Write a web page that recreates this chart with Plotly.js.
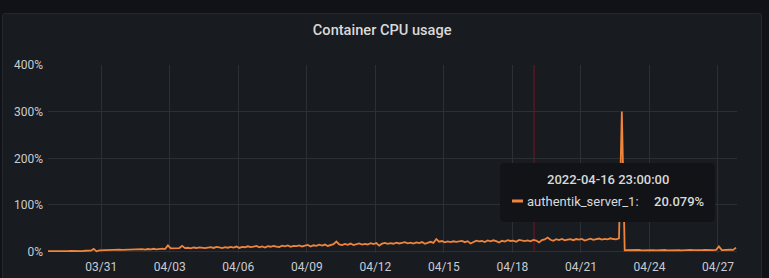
<!DOCTYPE html>
<html><head><meta charset="utf-8">
<script src="https://cdn.plot.ly/plotly-3.0.1.min.js"></script>
<style>
html,body{margin:0;padding:0;background:#111217;width:769px;height:278px;overflow:hidden;}
#panel{position:absolute;left:2px;top:13px;width:760px;height:290px;background:#181b1f;border:1px solid #24272c;border-radius:3px;box-sizing:border-box;}
#chart{position:absolute;left:0;top:0;width:769px;height:278px;}
</style></head><body>
<div id="panel"></div><div id="chart"></div>
<script>
const panelTitle = "Container CPU usage";
const seriesName = "authentik_server_1";
const startTime = Date.UTC(2022, 2, 28, 16, 0, 0); // 2022-03-28 16:00
const stepHours = 3;
// CPU usage in %, one value every 3 hours
const cpuValues = [
  1.2, 1.0, 1.5, 0.9, 1.3, 1.1, 1.6, 1.2,
  1.4, 1.0, 1.7, 1.3, 1.1, 1.8, 1.5, 1.9,
  5.8, 0.6, 2.8, 3.1, 2.6, 3.4, 3.0, 3.6,
  3.2, 4.1, 3.5, 3.9, 4.4, 3.7, 4.8, 4.0,
  4.6, 5.2, 4.3, 5.5, 4.9, 6.1, 5.0, 5.7,
  6.3, 5.4, 13.2, 6.8, 7.2, 6.5, 7.6, 12.4,
  7.4, 8.2, 6.9, 8.8, 7.7, 9.1, 8.0, 7.3,
  8.6, 9.4, 7.8, 10.2, 8.9, 7.5, 9.7, 8.3,
  9.9, 8.7, 10.8, 7.9, 10.1, 9.3, 11.4, 9.6,
  10.5, 12.3, 9.2, 11.1, 8.6, 11.8, 10.4, 12.0,
  10.9, 9.5, 12.6, 11.3, 13.1, 10.2, 12.2, 11.6,
  13.4, 11.0, 12.8, 14.2, 10.7, 13.6, 12.4, 14.7,
  13.0, 15.1, 12.1, 14.4, 16.0, 21.5, 15.5, 14.0,
  16.4, 14.6, 17.2, 13.9, 15.8, 17.7, 14.9, 16.6,
  15.3, 17.9, 16.1, 18.4, 12.8, 17.0, 18.8, 16.5,
  18.1, 16.9, 19.3, 17.4, 18.7, 20.1, 17.8, 19.0,
  17.2, 19.8, 18.3, 20.4, 16.7, 19.5, 21.0, 18.6,
  27.0, 21.3, 22.6, 19.9, 21.8, 20.5, 22.1, 20.9,
  21.6, 23.0, 20.2, 22.4, 17.5, 21.2, 23.4, 22.0,
  22.7, 20.6, 23.8, 21.9, 24.2, 22.3, 19.4, 23.1,
  21.4, 24.5, 22.8, 23.6, 20.9, 24.9, 23.3, 22.5,
  24.1, 22.0, 25.2, 23.7, 19.8, 24.6, 26.0, 30.0,
  25.4, 23.2, 26.5, 24.8, 27.1, 24.0, 25.9, 26.8,
  24.5, 26.9, 25.6, 27.3, 23.8, 26.2, 27.7, 25.3,
  26.6, 28.0, 25.9, 27.4, 26.3, 28.5, 27.0, 26.1,
  28.3, 300.5, 2.9, 3.2, 2.6, 3.0, 2.8, 3.4,
  2.7, 3.1, 2.5, 3.3, 2.9, 2.6, 3.2, 3.0,
  3.4, 2.8, 3.1, 2.6, 3.5, 3.0, 2.7, 3.3,
  2.9, 3.6, 3.2, 2.8, 3.4, 3.1, 3.7, 3.3,
  3.5, 3.0, 3.8, 11.0, 3.2, 3.9, 3.6, 4.0,
  3.7, 8.5
];
const yTickVals = [0, 100, 200, 300, 400];
const yTickText = ["0%", "100%", "200%", "300%", "400%"];
const xRange = ["2022-03-28 16:00:00", "2022-04-27 20:00:00"];
const xTick0 = "2022-03-31";
const crosshairTime = "2022-04-18 22:45:00";
const tooltipTime = "2022-04-16 23:00:00";
const tooltipValue = "20.079%";

function fmt(ms){
  const d = new Date(ms);
  return d.toISOString().slice(0,19).replace("T"," ");
}
const times = cpuValues.map((v,i) => fmt(startTime + i*stepHours*3600000));

const W = 769, H = 278;
const M = {l:48, r:32, t:65, b:25};
const PW = W - M.l - M.r, PH = H - M.t - M.b;
const px = x => (x - M.l) / PW;
const py = y => (H - M.b - y) / PH;

const lineColor = "#EF843C";
const textColor = "#c9cbd3";
const gridColor = "#2c2f34";

// rounded tooltip box in pixel space -> paper
function roundRect(x0,y0,x1,y1,r){
  const P = (x,y) => px(x).toFixed(5)+","+py(y).toFixed(5);
  return "M"+P(x0+r,y0)+" L"+P(x1-r,y0)+" Q"+P(x1,y0)+" "+P(x1,y0+r)+
    " L"+P(x1,y1-r)+" Q"+P(x1,y1)+" "+P(x1-r,y1)+
    " L"+P(x0+r,y1)+" Q"+P(x0,y1)+" "+P(x0,y1-r)+
    " L"+P(x0,y0+r)+" Q"+P(x0,y0)+" "+P(x0+r,y0)+" Z";
}

const trace = {
  x: times, y: cpuValues, type: "scatter", mode: "lines",
  name: seriesName,
  line: {color: lineColor, width: 1.8},
  hoverinfo: "skip"
};

const layout = {
  width: W, height: H,
  margin: M,
  paper_bgcolor: "rgba(0,0,0,0)",
  plot_bgcolor: "rgba(0,0,0,0)",
  showlegend: false,
  font: {family: "Roboto, sans-serif", size: 12, color: textColor},
  title: {
    text: panelTitle,
    font: {family: "Roboto, sans-serif", size: 14.6, color: "#d8d9da", weight: 500},
    xref: "container", x: 0.497, xanchor: "center",
    yref: "container", y: 1 - 30/H, yanchor: "middle"
  },
  xaxis: {
    type: "date", range: xRange,
    tick0: xTick0, dtick: 3*86400000, tickformat: "%m/%d",
    showgrid: true, gridcolor: gridColor, gridwidth: 1,
    zeroline: false, showline: false, ticks: "",
    ticklabelstandoff: 5,
    tickfont: {family: "Roboto, sans-serif", size: 12, color: textColor},
    fixedrange: true
  },
  yaxis: {
    range: [-3, 400],
    tickvals: yTickVals, ticktext: yTickText,
    showgrid: true, gridcolor: gridColor, gridwidth: 1,
    zeroline: false, showline: false, ticks: "",
    ticklabelstandoff: 4,
    tickfont: {family: "Roboto, sans-serif", size: 12, color: textColor},
    fixedrange: true
  },
  shapes: [
    {type: "line", xref: "x", yref: "paper", x0: crosshairTime, x1: crosshairTime,
     y0: py(65), y1: py(252), line: {color: "rgba(200,20,30,0.55)", width: 1}, layer: "below"},
    {type: "path", xref: "paper", yref: "paper", path: roundRect(500,163,715,222,5),
     fillcolor: "#121317", line: {width: 0}, layer: "above"},
    {type: "line", xref: "paper", yref: "paper", x0: px(512), x1: px(523),
     y0: py(201), y1: py(201), line: {color: lineColor, width: 3}, layer: "above"}
  ],
  annotations: [
    {xref: "paper", yref: "paper", x: px(608), y: py(179), xanchor: "center", yanchor: "middle",
     text: tooltipTime, showarrow: false,
     font: {family: "Roboto, sans-serif", size: 13, color: "#d8d9da", weight: 500}},
    {xref: "paper", yref: "paper", x: px(525), y: py(201), xanchor: "left", yanchor: "middle",
     text: seriesName + ":", showarrow: false,
     font: {family: "Roboto, sans-serif", size: 13, color: "#d8d9da"}},
    {xref: "paper", yref: "paper", x: px(706), y: py(201), xanchor: "right", yanchor: "middle",
     text: tooltipValue, showarrow: false,
     font: {family: "Roboto, sans-serif", size: 13, color: "#d8d9da", weight: 500}}
  ]
};

Plotly.newPlot("chart", [trace], layout, {displayModeBar: false, staticPlot: true});
</script>
</body></html>
